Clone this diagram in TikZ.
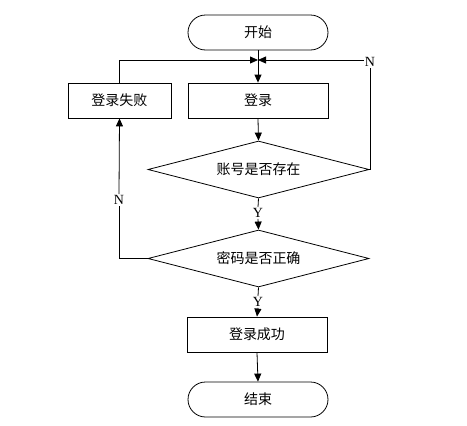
\documentclass[tikz,border=0pt]{standalone}
\usepackage{fontspec}
\newfontfamily\cjk{Noto Sans CJK SC}
\newfontfamily\lat{Liberation Serif}
\usetikzlibrary{shapes.geometric,arrows.meta}
\begin{document}
\begin{tikzpicture}[x=1pt,y=-1pt,
  every node/.style={font=\cjk\fontsize{14}{16}\selectfont},
  term/.style={draw,line width=0.8pt,rectangle,rounded corners=17.5pt,minimum width=140pt,minimum height=35pt,inner sep=0pt},
  procbox/.style={draw,line width=0.8pt,rectangle,minimum height=35pt,inner sep=0pt},
  decide/.style={draw,line width=0.8pt,diamond,aspect=3.88,minimum width=221pt,minimum height=57pt,inner sep=0pt},
  lbl/.style={font=\lat\fontsize{14}{16}\selectfont,fill=white,inner sep=1pt},
  conn/.style={line width=0.8pt},
  arr/.style={conn,-{Triangle[length=8pt,width=7pt]}}]
\useasboundingbox (0,0) rectangle (467,426);
\node[term] (start) at (258,32.5) {开始};
\coordinate (j) at (258,60);
\node[procbox,minimum width=140pt] (login) at (258,100.5) {登录};
\node[procbox,minimum width=103pt] (fail) at (119.5,100.5) {登录失败};
\node[decide] (d1) at (258.5,169.5) {账号是否存在};
\node[decide] (d2) at (258.5,258.5) {密码是否正确};
\node[procbox,minimum width=140pt] (ok) at (257,334.5) {登录成功};
\node[term] (end) at (258,399.5) {结束};
\node[lbl] (y1) at (258,213) {Y};
\node[lbl] (y2) at (258,302) {Y};
\node[lbl] (n1) at (370,62) {N};
\node[lbl] (n2) at (119,200) {N};
\draw[arr] (start.south) -- (login.north);
\draw[arr] (fail.north) -- (fail.north |- j) -- (j);
\draw[conn] (d1.east) -- (d1.east -| n1) -- (n1.south);
\draw[arr] (n1.west |- j) -- (j);
\draw[arr] (login.south) -- (d1.north);
\draw[conn] (d1.south) -- (y1.north);
\draw[arr] (y1.south) -- (d2.north);
\draw[conn] (d2.south) -- (y2.north);
\draw[arr] (y2.south) -- (ok.north);
\draw[conn] (d2.west) -- (d2.west -| n2) -- (n2.south);
\draw[arr] (n2.north) -- (fail.south);
\draw[arr] (ok.south) -- (end.north);
\end{tikzpicture}
\end{document}
